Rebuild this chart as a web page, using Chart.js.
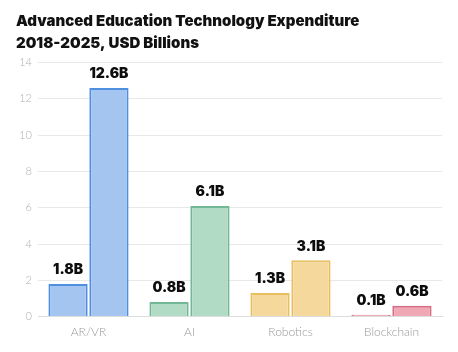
<!DOCTYPE html>
<html>
<head>
<meta charset="utf-8">
<script src="https://cdn.jsdelivr.net/npm/chart.js@4"></script>
<style>
  html, body { margin: 0; padding: 0; background: #fff; }
  #wrap { width: 458px; height: 352px; }
</style>
</head>
<body>
<div id="wrap"><canvas id="chart"></canvas></div>
<script>
// data
const categories = ["AR/VR", "AI", "Robotics", "Blockchain"];
const spend2018 = [1.8, 0.8, 1.3, 0.1];
const spend2025 = [12.6, 6.1, 3.1, 0.6];
const fillColors = ["#a4c5f0", "#b1dbc4", "#f5d99c", "#f1a8b5"];
const lineColors = ["#4f8fe0", "#72b896", "#e8bf60", "#d56c83"];

// draw "x.xB" above each bar
const valueLabels = {
    id: "valueLabels",
    afterDatasetsDraw(chart) {
        const ctx = chart.ctx;
        ctx.save();
        ctx.font = "900 14px Inter, sans-serif";
        ctx.fillStyle = "#0d0d0d";
        ctx.textAlign = "center";
        ctx.textBaseline = "bottom";
        chart.data.datasets.forEach((ds, i) => {
            chart.getDatasetMeta(i).data.forEach((bar, j) => {
                ctx.fillText(ds.data[j].toFixed(1) + "B", bar.x, bar.y - 7);
            });
        });
        ctx.restore();
    },
};

new Chart(document.getElementById("chart"), {
    type: "bar",
    data: {
        labels: categories,
        datasets: [
            {
                label: "2018",
                data: spend2018,
                backgroundColor: fillColors,
                borderColor: lineColors,
                borderWidth: 2,
                borderSkipped: "bottom",
            },
            {
                label: "2025",
                data: spend2025,
                backgroundColor: fillColors,
                borderColor: lineColors,
                borderWidth: 2,
                borderSkipped: "bottom",
            },
        ],
    },
    options: {
        responsive: true,
        maintainAspectRatio: false,
        animation: false,
        categoryPercentage: 0.81,
        barPercentage: 0.96,
        layout: { padding: { left: 16, right: 16, top: 0, bottom: 13 } },
        plugins: {
            legend: { display: false },
            tooltip: { enabled: false },
            title: {
                display: true,
                align: "start",
                text: ["Advanced Education Technology Expenditure", "2018-2025, USD Billions"],
                color: "#111",
                font: { family: "Inter", size: 15, weight: "900", lineHeight: 1.45 },
                padding: { top: 11, bottom: 8 },
            },
        },
        scales: {
            y: {
                min: 0,
                max: 14,
                afterFit: (scale) => { scale.width = 22; },
                ticks: {
                    stepSize: 2,
                    color: "#b0b0b0",
                    padding: 6,
                    font: { family: "Lato", size: 11, weight: "300" },
                },
                grid: { color: "#e8e8e8", drawTicks: false },
                border: { display: false },
            },
            x: {
                ticks: {
                    color: "#999",
                    padding: 0,
                    font: { family: "Lato", size: 12, weight: "300" },
                },
                grid: { display: false },
                border: { color: "#ddd" },
            },
        },
    },
    plugins: [valueLabels],
});
</script>
</body>
</html>
